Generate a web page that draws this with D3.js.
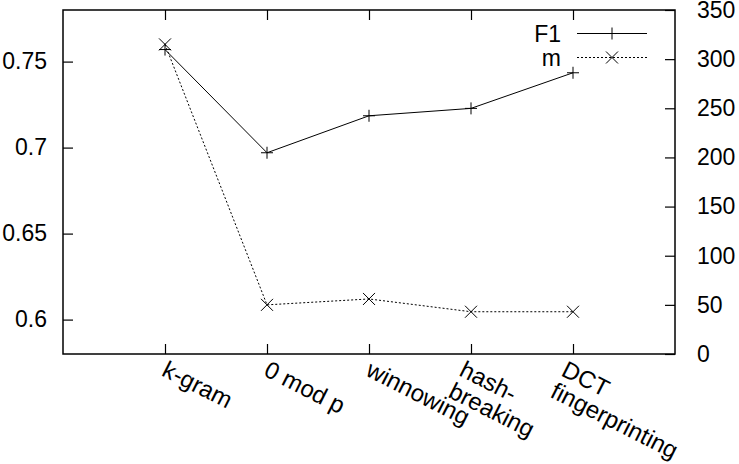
<!DOCTYPE html>
<html>
<head>
<meta charset="utf-8">
<script src="https://cdn.jsdelivr.net/npm/d3@7"></script>
<style>
  body { margin: 0; background: #fff; }
  svg { font-family: "Liberation Sans", Arial, Helvetica, sans-serif; }
  .axis text { font-size: 23px; fill: #000; }
  .axis line { stroke: #000; stroke-width: 1.2; }
</style>
</head>
<body>
<svg id="chart" width="739" height="464"></svg>
<script>
// methods along x, F1 score (left axis) and m (right axis)
let methods = ["k-gram", "0 mod p", "winnowing", "hash-\nbreaking", "DCT\nfingerprinting"];
let f1 = [0.757, 0.697, 0.7185, 0.7228, 0.7435];
let mVals = [315, 50, 56, 43, 43];
let leftTicks = [0.6, 0.65, 0.7, 0.75];
let rightTicks = [0, 50, 100, 150, 200, 250, 300, 350];

let box = {left: 63, right: 675, top: 10, bottom: 354};
let fs = 23;
let xfs = 24;

let svg = d3.select('#chart');

let x = d3.scaleLinear().domain([-1, methods.length]).range([box.left, box.right]);
let y = d3.scaleLinear().domain([0.58, 0.78]).range([box.bottom, box.top]);
let y2 = d3.scaleLinear().domain([0, 350]).range([box.bottom, box.top]);

// left axis, ticks pointing inward
let gl = svg.append('g').attr('class', 'axis')
    .attr('transform', 'translate(' + box.left + ',0)')
    .call(d3.axisLeft(y).tickValues(leftTicks).tickSize(-10).tickPadding(16)
          .tickFormat(d3.format('')));
gl.select('.domain').remove();

// right axis
let gr = svg.append('g').attr('class', 'axis')
    .attr('transform', 'translate(' + box.right + ',0)')
    .call(d3.axisRight(y2).tickValues(rightTicks).tickSize(-10).tickPadding(22));
gr.select('.domain').remove();

// x ticks on bottom and top (mirror), labels drawn separately
let idx = d3.range(methods.length);
let gb = svg.append('g').attr('class', 'axis')
    .attr('transform', 'translate(0,' + box.bottom + ')')
    .call(d3.axisBottom(x).tickValues(idx).tickSize(-10).tickFormat(''));
gb.select('.domain').remove();
let gt = svg.append('g').attr('class', 'axis')
    .attr('transform', 'translate(0,' + box.top + ')')
    .call(d3.axisTop(x).tickValues(idx).tickSize(-10).tickFormat(''));
gt.select('.domain').remove();

// rotated category labels
svg.append('g').selectAll('text').data(methods).enter().append('text')
    .attr('transform', (d, i) => {
        let lines = d.split('\n').length;
        return 'translate(' + (x(i) - 4.5 - (lines - 1) * 8.5) + ',' + (box.bottom + 21) + ') rotate(27)';
    })
    .attr('font-size', xfs)
    .each(function (d) {
        let arr = d.split('\n');
        for (let i = 0; i < arr.length; i++) {
            d3.select(this).append('tspan')
                .text(arr[i])
                .attr('x', 0)
                .attr('dy', i ? xfs : 0);
        }
    });

// frame
svg.append('rect')
    .attr('x', box.left).attr('y', box.top)
    .attr('width', box.right - box.left).attr('height', box.bottom - box.top)
    .attr('fill', 'none').attr('stroke', '#000').attr('stroke-width', 1.5);

// series
let lineF1 = d3.line().x((d, i) => x(i)).y(d => y(d));
let lineM = d3.line().x((d, i) => x(i)).y(d => y2(d));

svg.append('path').datum(f1)
    .attr('d', lineF1).attr('fill', 'none').attr('stroke', '#000').attr('stroke-width', 1);
svg.append('path').datum(mVals)
    .attr('d', lineM).attr('fill', 'none').attr('stroke', '#000').attr('stroke-width', 1)
    .attr('stroke-dasharray', '2,2');

let s = 6;
function plus(g, cx, cy) {
    g.append('path').attr('d', 'M' + (cx - s) + ',' + cy + 'H' + (cx + s) + 'M' + cx + ',' + (cy - s) + 'V' + (cy + s))
        .attr('stroke', '#000').attr('stroke-width', 1).attr('fill', 'none');
}
function cross(g, cx, cy) {
    g.append('path').attr('d', 'M' + (cx - s) + ',' + (cy - s) + 'L' + (cx + s) + ',' + (cy + s) +
                               'M' + (cx - s) + ',' + (cy + s) + 'L' + (cx + s) + ',' + (cy - s))
        .attr('stroke', '#000').attr('stroke-width', 1).attr('fill', 'none');
}
let marks = svg.append('g');
f1.forEach((d, i) => plus(marks, x(i), y(d)));
mVals.forEach((d, i) => cross(marks, x(i), y2(d)));

// legend
let leg = svg.append('g');
let legItems = [{name: 'F1', dash: null, mark: plus}, {name: 'm', dash: '2,2', mark: cross}];
legItems.forEach((d, i) => {
    let ly = 33.5 + i * 24;
    leg.append('text').attr('x', 561).attr('y', ly + 8).attr('text-anchor', 'end')
        .attr('font-size', fs).text(d.name);
    leg.append('line').attr('x1', 577).attr('x2', 647).attr('y1', ly).attr('y2', ly)
        .attr('stroke', '#000').attr('stroke-width', 1)
        .attr('stroke-dasharray', d.dash);
    d.mark(leg, 612, ly);
});
</script>
</body>
</html>
